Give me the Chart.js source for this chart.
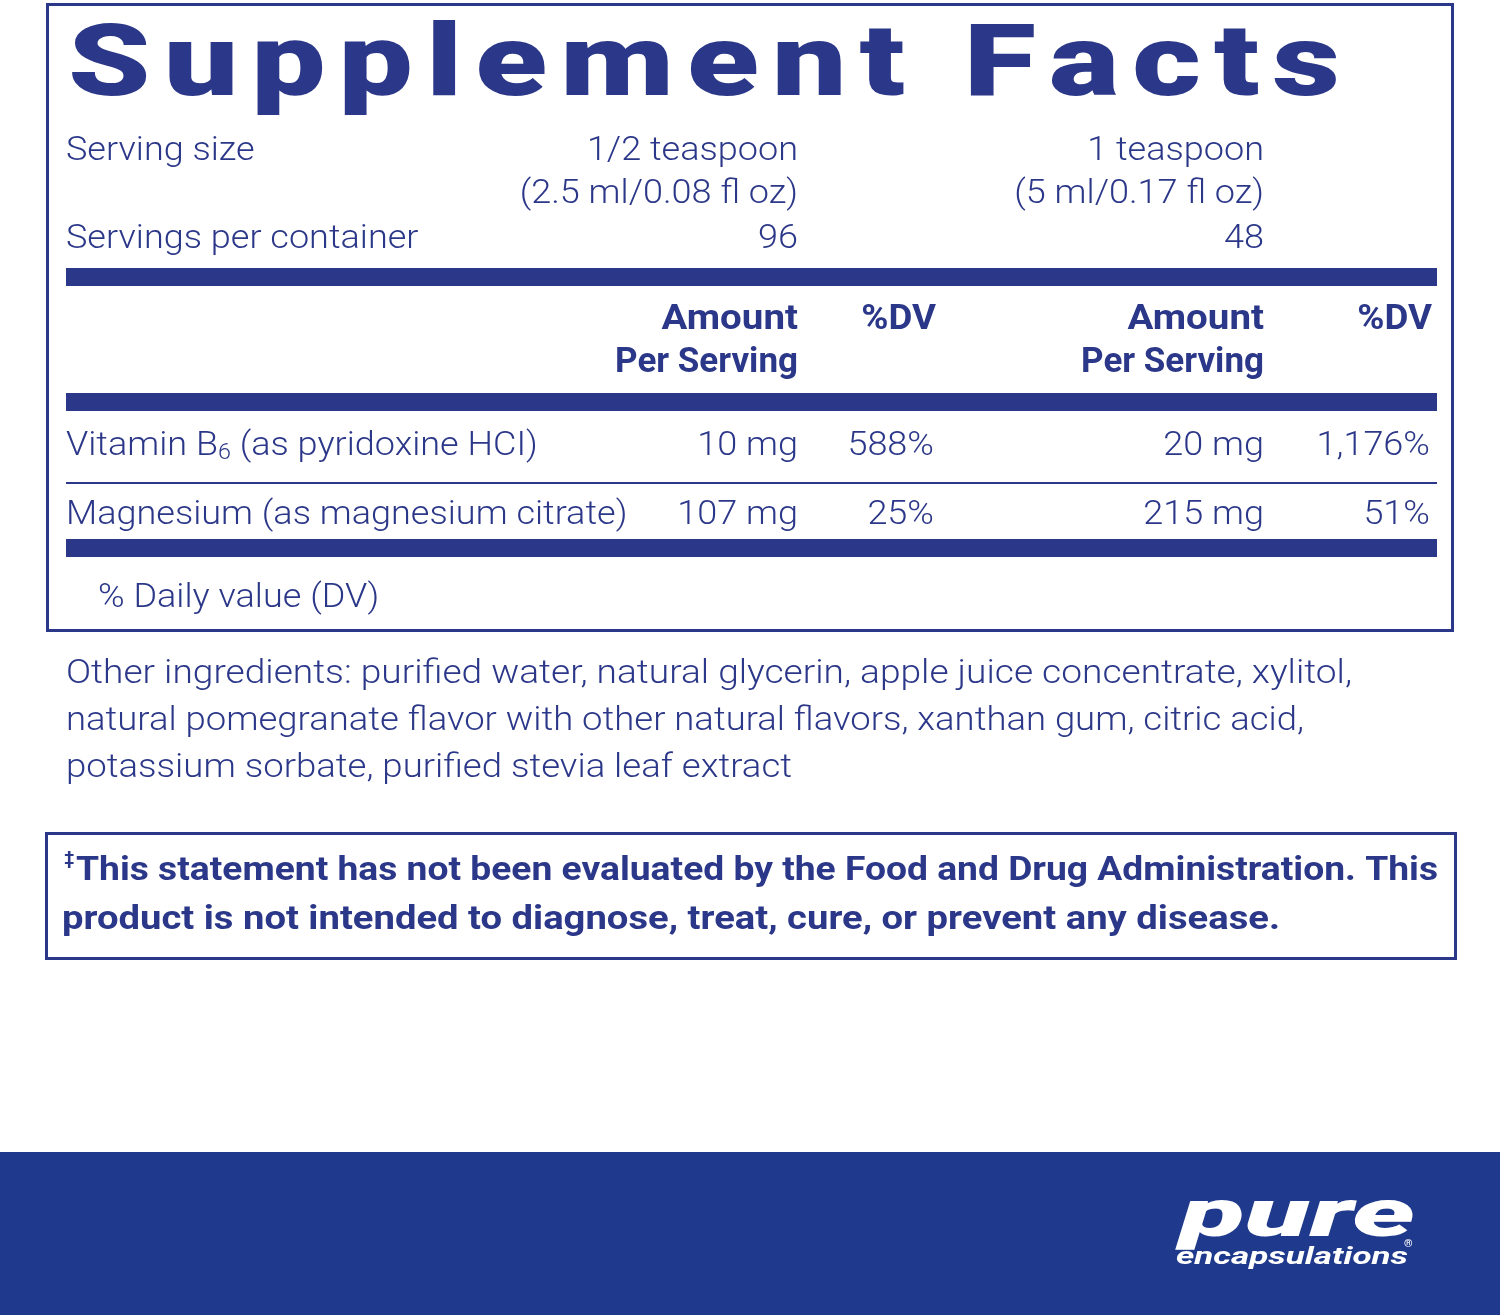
<!DOCTYPE html>
<html><head><meta charset="utf-8">
<script src="https://cdn.jsdelivr.net/npm/chart.js@4"></script>
<style>html,body{margin:0;padding:0;background:#fff}#w{width:1500px;height:1315px}</style>
</head><body><div id="w"><canvas id="c"></canvas></div>
<script>
const title = "Supplement Facts";
const servingLabels = ["Serving size", "Servings per container"];
const servingHalf = ["1/2 teaspoon", "(2.5 ml/0.08 fl oz)", "96"];
const servingFull = ["1 teaspoon", "(5 ml/0.17 fl oz)", "48"];
const nutrients = ["Vitamin B|6| (as pyridoxine HCI)", "Magnesium (as magnesium citrate)"];
const amountHalf = ["10 mg", "107 mg"];
const dvHalf = ["588%", "25%"];
const amountFull = ["20 mg", "215 mg"];
const dvFull = ["1,176%", "51%"];
const otherLines = ["Other ingredients: purified water, natural glycerin, apple juice concentrate, xylitol,",
  "natural pomegranate flavor with other natural flavors, xanthan gum, citric acid,",
  "potassium sorbate, purified stevia leaf extract"];
const disclaimer = ["This statement has not been evaluated by the Food and Drug Administration. This",
  "product is not intended to diagnose, treat, cure, or prevent any disease."];

const NAVY = "#2b3788", BAND = "#1f3a8c";
const F = "Roboto";
const SX = 1.06;
function st(c, t, x, y, s, align) {
  const w = c.measureText(t).width * s;
  let x0 = align === "right" ? x - w : x;
  c.save(); c.textAlign = "left"; c.translate(x0, y); c.scale(s, 1); c.fillText(t, 0, 0); c.restore();
  return w;
}
function fit(c, t, x, y, target) {
  const s = target / c.measureText(t).width; st(c, t, x, y, s, "left");
}
const labelPlugin = {
  id: "label",
  afterDraw(chart) {
    const c = chart.ctx;
    c.save();
    c.textBaseline = "alphabetic";
    c.fillStyle = NAVY; c.strokeStyle = NAVY;
    c.lineWidth = 3; c.strokeRect(47.5, 4.5, 1405, 626);
    c.font = `900 100px ${F}`;
    const TS = 1.32;
    const chars = [...title];
    const tw = chars.reduce((a, ch) => a + c.measureText(ch).width * TS, 0);
    const sp = (1272 - tw) / (chars.length - 1);
    let x = 68;
    for (const ch of chars) { st(c, ch, x, 95, TS, "left"); x += c.measureText(ch).width * TS + sp; }
    c.font = `300 34px ${F}`;
    st(c, servingLabels[0], 66, 160, SX);
    st(c, servingLabels[1], 66, 248, SX);
    [160, 203, 248].forEach((y, i) => { st(c, servingHalf[i], 798, y, SX, "right"); st(c, servingFull[i], 1264, y, SX, "right"); });
    c.fillRect(66, 268, 1371, 18);
    c.fillRect(66, 393, 1371, 18);
    c.fillRect(66, 539, 1371, 18);
    c.fillRect(66, 482, 1371, 2);
    c.font = `700 35px ${F}`;
    st(c, "Amount", 798, 329, 1.1, "right"); st(c, "Per Serving", 798, 372, 1.0, "right");
    st(c, "Amount", 1264, 329, 1.1, "right"); st(c, "Per Serving", 1264, 372, 1.0, "right");
    st(c, "%DV", 936, 329, 1.05, "right"); st(c, "%DV", 1432, 329, 1.05, "right");
    c.font = `300 34px ${F}`;
    [455, 524].forEach((y, i) => {
      const parts = nutrients[i].split("|");
      let px = 66;
      parts.forEach((p, k) => {
        if (k === 1) { c.font = `300 22px ${F}`; px += st(c, p, px, y + 4, SX); c.font = `300 34px ${F}`; }
        else { px += st(c, p, px, y, SX); }
      });
      st(c, amountHalf[i], 798, y, SX, "right"); st(c, dvHalf[i], 934, y, SX, "right");
      st(c, amountFull[i], 1264, y, SX, "right"); st(c, dvFull[i], 1430, y, SX, "right");
    });
    st(c, "% Daily value (DV)", 98, 607, SX);
    const otherW = [1286, 1238, 726];
    otherLines.forEach((l, i) => fit(c, l, 66, 683 + i * 47, otherW[i]));
    c.lineWidth = 3; c.strokeRect(46.5, 833.5, 1409, 125);
    c.font = `700 18px ${F}`; c.fillText("‡", 64, 864);
    c.font = `700 34px ${F}`;
    fit(c, disclaimer[0], 76, 880, 1362);
    fit(c, disclaimer[1], 62, 929, 1218);
    c.fillStyle = BAND; c.fillRect(0, 1152, 1500, 163);
    c.fillStyle = "#fff";
    c.font = `italic 900 66px ${F}`;
    fit(c, "pure", 1180, 1236, 235);
    c.font = `italic 700 24px ${F}`;
    fit(c, "encapsulations", 1176, 1264, 232);
    c.font = `700 11px ${F}`; c.fillText("®", 1404, 1247);
    c.restore();
  }
};
new Chart(document.getElementById("c"), {
  type: "bar",
  data: { labels: [], datasets: [] },
  options: { responsive: true, maintainAspectRatio: false, animation: false,
    plugins: { legend: { display: false }, tooltip: { enabled: false } },
    scales: { x: { display: false }, y: { display: false } }, layout: { padding: 0 } },
  plugins: [labelPlugin]
});
</script></body></html>
